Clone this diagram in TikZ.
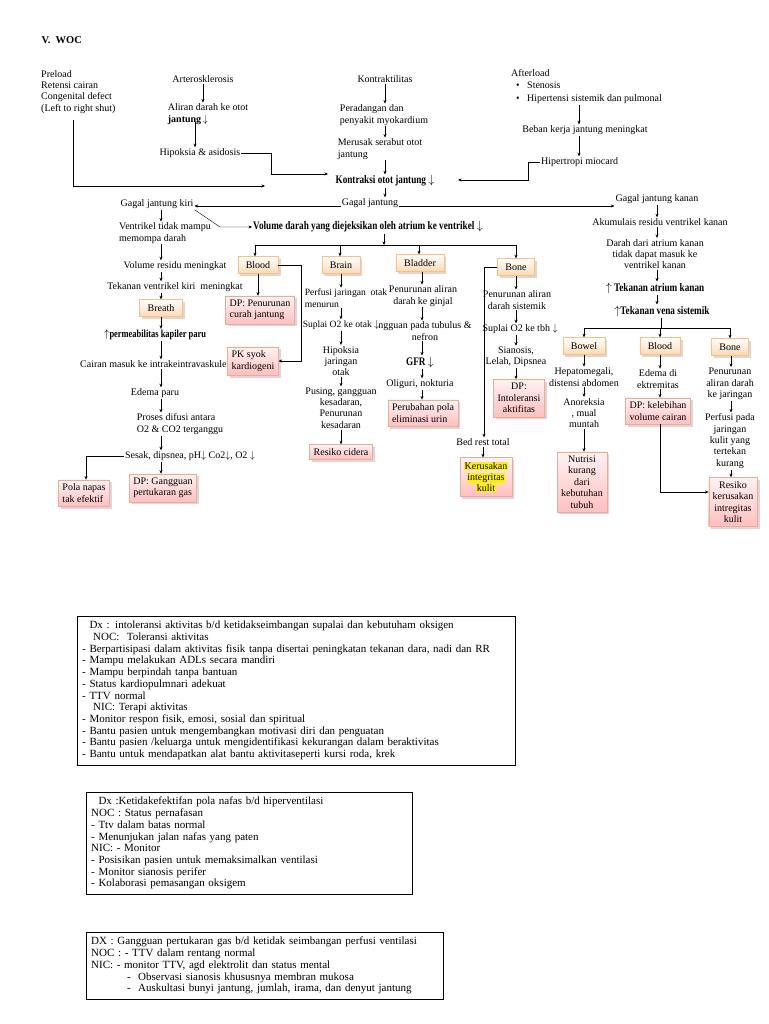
\documentclass[tikz,border=0pt]{standalone}
\usepackage{fontspec}
\setmainfont{Liberation Serif}
\usepackage{amssymb}
\usetikzlibrary{arrows.meta,shadows}
\begin{document}
\begin{tikzpicture}[x=1pt,y=-1pt,
  t/.style={inner sep=1pt,align=center,font=\fontsize{10}{11.4}\selectfont},
  tl/.style={t,align=left},
  arr/.style={-{Stealth[length=3.5pt,width=3pt]},thin},
  ln/.style={thin},
  org/.style={t,draw=orange!50,top color=white,bottom color=orange!30,drop shadow={opacity=.3},minimum height=17pt,inner xsep=8pt},
  dp/.style={tl,draw=red!30!brown!50,top color=red!5,bottom color=red!25,drop shadow={opacity=.3},inner sep=4pt},
  bx/.style={draw,thin,inner sep=5pt,align=left,anchor=north west,font=\fontsize{11}{11.7}\selectfont},
  bold/.style={t,font=\fontsize{11.5}{11.4}\selectfont\bfseries\addfontfeature{FakeStretch=0.8}}]
\useasboundingbox (0,0) rectangle (768,1024);
\def\da{$\downarrow$}
\node[anchor=west,font=\fontsize{10.5}{11}\selectfont\bfseries] at (38,40) {V.\ \ WOC};
% top causes
\node[tl,anchor=north west] (pre) at (40,69) {Preload\\Retensi cairan\\Congenital defect\\(Left to right shut)};
\node[t] (art) at (203,79) {Arterosklerosis};
\node[tl] (alir) at (208,114) {Aliran darah ke otot\\\textbf{jantung}\,\da};
\node[t] (hip) at (200,153) {Hipoksia \& asidosis};
\node[t] (kon) at (385,79) {Kontraktilitas};
\node[tl] (pera) at (384,115) {Peradangan dan\\penyakit myokardium};
\node[tl] (meru) at (380,149) {Merusak serabut otot\\jantung};
\node[bold] (kot) at (385,181) {Kontraksi otot jantung \da};
\node[t] (gj) at (370,203) {Gagal jantung};
\node[tl,anchor=north west] (aft) at (510,68) {Afterload\\[1pt] \ \ \textbullet\ \ \ Stenosis\\[1pt] \ \ \textbullet\ \ \ Hipertensi sistemik dan pulmonal};
\node[t] (beb) at (585,130) {Beban kerja jantung meningkat};
\node[t,anchor=west] (hmio) at (540,162) {Hipertropi miocard};
\coordinate (k1) at (328,174); \coordinate (k2) at (265,186); \coordinate (k3) at (458,180);
\coordinate (c492) at (0,492); \coordinate (c206) at (0,206);
\draw[ln] (pre.south west)++(33,5) coordinate (p0) -- (p0|-k2) edge[arr] (k2);
\draw[arr] (art) -- (art|-alir.north);
\draw[arr] (195,122) -- (195,0|-hip.north);
\draw[arr] (hip.east) -| (271,174) -- (k1);
\draw[arr] (kon) -- (kon|-pera.north);
\draw[arr] (pera.south-|kon) -- (kon|-meru.north);
\draw[arr] (meru.south-|kon) -- (kon|-kot.north);
\draw[arr] (kot.south-|kon) -- (kon|-gj.north);
\draw[arr] (579,105) -- (579,0|-beb.north);
\draw[arr] (579,136) -- (579,0|-hmio.north);
\draw[arr] (hmio.west) -| (528,180) -- (k3);
% left branch
\node[t] (gkiri) at (157,204) {Gagal jantung kiri};
\node[bold] (vol) at (368,227) {Volume darah yang diejeksikan oleh atrium ke ventrikel \da};
\node[t] (gkan) at (657,199) {Gagal jantung kanan};
\draw[arr] (gj.west|-c206) -- (gkiri.east|-c206);
\draw[arr] (gj.east|-c206) -- (gkan.west|-c206);
\draw[arr] (gkiri.south east) -- (220,227) -- (vol.west);
\draw[arr] (vol.south-|384,0) -- (384,245) coordinate (v0);
\draw[ln] (255,245) -- (516,245);
\node[tl] (vtm) at (165,233) {Ventrikel tidak mampu\\memompa darah};
\node[t] (vrm) at (175,266) {Volume residu meningkat};
\node[t] (tvk) at (175,287) {Tekanan ventrikel kiri \ meningkat};
\node[org] (breath) at (161,308) {Breath};
\node[bold,font=\fontsize{10.8}{11}\selectfont\bfseries\addfontfeature{FakeStretch=0.78}] (perm) at (155,335) {$\uparrow$permeabilitas kapiler paru};
\node[t] (cai) at (155,364) {Cairan masuk ke intrakeintravaskuler};
\node[t] (ede) at (155,393) {Edema paru};
\node[tl] (pro) at (180,424) {Proses difusi antara\\O2 \& CO2 terganggu};
\node[t] (ses) at (190,456) {Sesak, dipsnea, pH\da\ Co2\da, O2 \da};
\node[dp] (pola) at (84,493) {Pola napas\\tak efektif};
\node[dp] (dpg) at (163,488) {DP: Gangguan\\pertukaran gas};
\foreach \a/\b in {gkiri/vtm,vtm/vrm,vrm/tvk,tvk/breath,breath/perm,perm/cai,cai/ede,ede/pro,pro/ses,ses/dpg}
  \draw[arr] (\a.south-|161,0) -- (161,0|-\b.north);
\draw[arr] (ses.west) -| (86,0|-pola.north);
% Blood
\node[org] (blood) at (258,265) {Blood};
\node[dp] (dppc) at (260,310) {DP: Penurunan\\curah jantung};
\node[dp] (pk) at (253,361) {PK syok\\kardiogeni};
\draw[arr] (255,245) -- (255,0|-blood.north);
\draw[arr] (blood.south) -- (blood.south|-dppc.north);
\draw[arr] (blood.east) -| (301,361) -- (pk.east);
% Brain
\node[org] (brain) at (341,265) {Brain};
\node[tl,font=\fontsize{9.6}{11.4}\selectfont] (perf) at (346,298) {Perfusi jaringan \ otak\\menurun};
\node[t,font=\fontsize{9.6}{11.4}\selectfont] (sup) at (341,325) {Suplai O2 ke otak \da};
\node[t] (hipo) at (341,361) {Hipoksia\\jaringan\\otak};
\node[t] (pus) at (341,408) {Pusing, gangguan\\kesadaran,\\Penurunan\\kesadaran};
\node[dp] (res) at (341,452) {Resiko cidera};
\draw[arr] (340,245) -- (340,0|-brain.north);
\foreach \a/\b in {brain/perf,perf/sup,sup/hipo,hipo/pus,pus/res}
  \draw[arr] (\a.south-|341,0) -- (341,0|-\b.north);
% Bladder
\node[org] (bla) at (420,263) {Bladder};
\node[t] (pal) at (423,296) {Penurunan aliran\\darah ke ginjal};
\node[t] (ngg) at (425,331) {ngguan pada tubulus \&\\nefron};
\node[bold] (gfr) at (420,362) {GFR \da};
\node[t] (oli) at (420,384) {Oliguri, nokturia};
\node[dp] (peru) at (423,413) {Perubahan pola\\eliminasi urin};
\draw[arr] (419,245) -- (419,0|-bla.north);
\foreach \a/\b in {bla/pal,pal/ngg,ngg/gfr,gfr/oli,oli/peru}
  \draw[arr] (\a.south-|422,0) -- (422,0|-\b.north);
% Bone
\node[org] (bone) at (516,267) {Bone};
\node[t] (pad) at (517,300) {Penurunan aliran\\darah sistemik};
\node[t] (sut) at (520,329) {Suplai O2 ke tbh \da};
\node[t] (sia) at (516,357) {Sianosis,\\Lelah, Dipsnea};
\node[dp,align=center] (dpi) at (519,398) {DP:\\Intoleransi\\aktifitas};
\node[t] (bed) at (483,442) {Bed rest total};
\node[dp,align=center] (ker) at (486,477) {\setlength{\fboxsep}{0.5pt}\colorbox{yellow}{Kerusakan}\\\setlength{\fboxsep}{0.5pt}\colorbox{yellow}{integritas}\\\setlength{\fboxsep}{0.5pt}\colorbox{yellow}{kulit}};
\draw[arr] (516,245) -- (516,0|-bone.north);
\foreach \a/\b in {bone/pad,pad/sut,sut/sia,sia/dpi}
  \draw[arr] (\a.south-|516,0) -- (516,0|-\b.north);
\draw[arr] (bone.west) -| (484,0|-bed.north);
\draw[arr] (bed.south-|483,0) -- (483,0|-ker.north);
% right branch
\node[t] (aku) at (660,222) {Akumulais residu ventrikel kanan};
\node[t] (dar) at (655,254) {Darah dari atrium kanan\\tidak dapat masuk ke\\ventrikel kanan};
\node[bold] (tak) at (655,288) {$\uparrow$ Tekanan atrium kanan};
\node[bold] (tvs) at (662,311) {$\uparrow$Tekanan vena sistemik};
\foreach \a/\b in {gkan/aku,aku/dar,dar/tak,tak/tvs}
  \draw[arr] (\a.south-|657,0) -- (657,0|-\b.north);
\draw[ln] (tvs.south-|661,0) -- (661,328);
\draw[ln] (584,328) -- (730,328);
\node[org] (bow) at (584,346) {Bowel};
\node[org] (blo2) at (660,346) {Blood};
\node[org] (bon2) at (730,347) {Bone};
\foreach \x/\b in {584/bow,660/blo2,730/bon2} \draw[arr] (\x,328) -- (\x,0|-\b.north);
\node[t] (hep) at (584,377) {Hepatomegali,\\distensi abdomen};
\node[t] (ano) at (584,413) {Anoreksia\\, mual\\muntah};
\node[dp,align=center] (nut) at (582,482) {Nutrisi\\kurang\\dari\\kebutuhan\\tubuh};
\foreach \a/\b in {bow/hep,hep/ano,ano/nut}
  \draw[arr] (\a.south-|584,0) -- (584,0|-\b.north);
\node[t] (ede2) at (658,379) {Edema di\\ektremitas};
\node[dp] (kel) at (658,411) {DP: kelebihan\\volume cairan};
\foreach \a/\b in {blo2/ede2,ede2/kel}
  \draw[arr] (\a.south-|660,0) -- (660,0|-\b.north);
\node[t] (pena) at (730,384) {Penurunan\\aliran darah\\ke jaringan};
\node[t] (perk) at (730,441) {Perfusi pada\\jaringan\\kulit yang\\tertekan\\kurang};
\node[dp,align=center] (rkk) at (733,502) {Resiko\\kerusakan\\intregitas\\kulit};
\foreach \a/\b in {bon2/pena,pena/perk,perk/rkk}
  \draw[arr] (\a.south-|731,0) -- (731,0|-\b.north);
\draw[arr] (kel.south-|660,0) -- (660,492) -- (rkk.west|-c492);
% bottom boxes
\node[bx,text width=428pt] (b1) at (77,616) {\ \ Dx : intoleransi aktivitas b/d ketidakseimbangan supalai dan kebutuham oksigen\\
\ \ \ NOC: \ Toleransi aktivitas\\
- Berpartisipasi dalam aktivitas fisik tanpa disertai peningkatan tekanan dara, nadi dan RR\\
- Mampu melakukan ADLs secara mandiri\\
- Mampu berpindah tanpa bantuan\\
- Status kardiopulmnari adekuat\\
- TTV normal\\
\ \ \ NIC: Terapi aktivitas\\
- Monitor respon fisik, emosi, sosial dan spiritual\\
- Bantu pasien untuk mengembangkan motivasi diri dan penguatan\\
- Bantu pasien /keluarga untuk mengidentifikasi kekurangan dalam beraktivitas\\
- Bantu untuk mendapatkan alat bantu aktivitaseperti kursi roda, krek};
\node[bx,text width=316pt] (b2) at (86,792) {\ \ Dx :Ketidakefektifan pola nafas b/d hiperventilasi\\
NOC : Status pernafasan\\
- Ttv dalam batas normal\\
- Menunjukan jalan nafas yang paten\\
NIC: - Monitor\\
- Posisikan pasien untuk memaksimalkan ventilasi\\
- Monitor sianosis perifer\\
- Kolaborasi pemasangan oksigem};
\node[bx,text width=347pt] (b3) at (86,932) {DX : Gangguan pertukaran gas b/d ketidak seimbangan perfusi ventilasi\\
NOC : - TTV dalam rentang normal\\
NIC: - monitor TTV, agd elektrolit dan status mental\\
\hspace*{36pt}- \ Observasi sianosis khususnya membran mukosa\\
\hspace*{36pt}- \ Auskultasi bunyi jantung, jumlah, irama, dan denyut jantung\\[4pt]};
\end{tikzpicture}
\end{document}
